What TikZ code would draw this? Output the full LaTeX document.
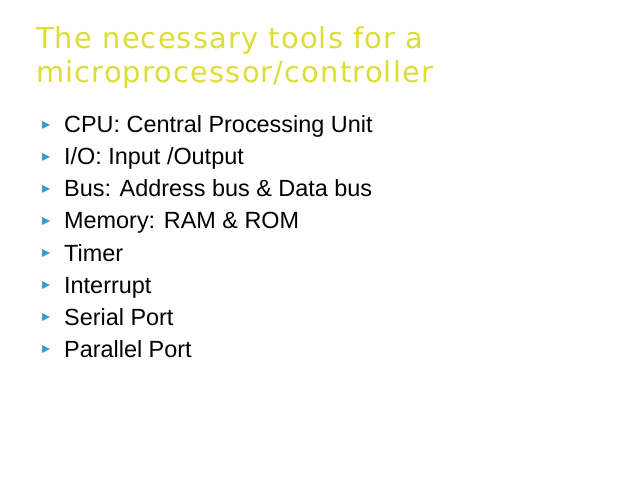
\documentclass[tikz,border=0pt]{standalone}
\usepackage{fontspec}
\setmainfont{Liberation Sans}
\newfontfamily\titlefont[LetterSpace=4]{DejaVu Sans}
\definecolor{ttl}{HTML}{DDDD38}
\definecolor{bul}{HTML}{3A9CC8}
\begin{document}
\begin{tikzpicture}[x=1bp,y=-1bp,
  item/.style={anchor=base west,inner sep=0pt,font=\fontsize{23.5}{28}\selectfont},
  ttlline/.style={anchor=base west,inner sep=0pt,text=ttl,font=\titlefont\fontsize{29}{34}\selectfont}]
\useasboundingbox (0,0) rectangle (638,478);
\node[ttlline] (t1) at (36,49) {The necessary tools for a};
\node[ttlline] (t2) at (36,83) {microprocessor/controller};
\foreach \t [count=\i] in {CPU: Central Processing Unit,I/O: Input /Output,Bus: Address bus \& Data bus,Memory: RAM \& ROM,Timer,Interrupt,Serial Port,Parallel Port}{
  \pgfmathsetmacro{\yy}{133+32*(\i-1)}
  \fill[bul] (42,\yy-12) -- (50,\yy-8) -- (42,\yy-4) -- cycle;
  \node[item] (b\i) at (64,\yy) {\t};
}
\end{tikzpicture}
\end{document}
